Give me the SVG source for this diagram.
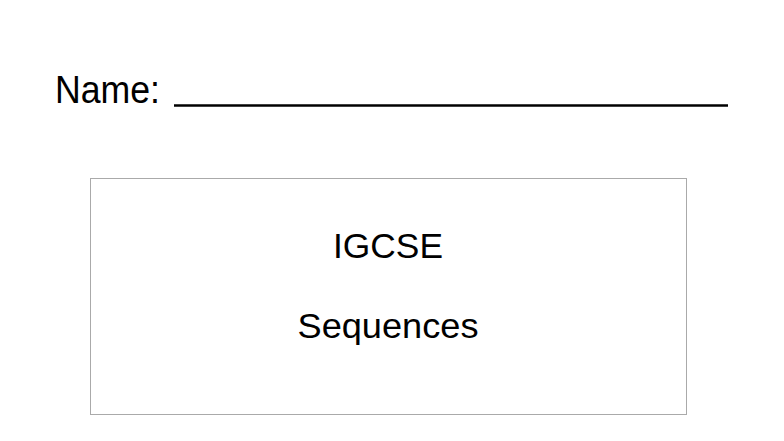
<svg xmlns="http://www.w3.org/2000/svg" width="784" height="441" viewBox="0 0 784 441">
<style>text{font-family:"Liberation Sans",Arial,sans-serif;fill:#000}</style>
<rect width="784" height="441" fill="#fff"/>
<g id="name">
<text x="55" y="103" font-size="38" textLength="105" lengthAdjust="spacingAndGlyphs">Name:</text>
<line x1="174" y1="105.5" x2="728" y2="105.5" stroke="#000" stroke-width="2.5"/>
</g>
<g id="title">
<rect x="90.5" y="178.5" width="596" height="236" fill="none" stroke="#aaa" stroke-width="1"/>
<text x="388" y="258" font-size="35" text-anchor="middle" textLength="110" lengthAdjust="spacingAndGlyphs">IGCSE</text>
<text x="388" y="338" font-size="35" text-anchor="middle" textLength="181" lengthAdjust="spacingAndGlyphs">Sequences</text>
</g>
</svg>
